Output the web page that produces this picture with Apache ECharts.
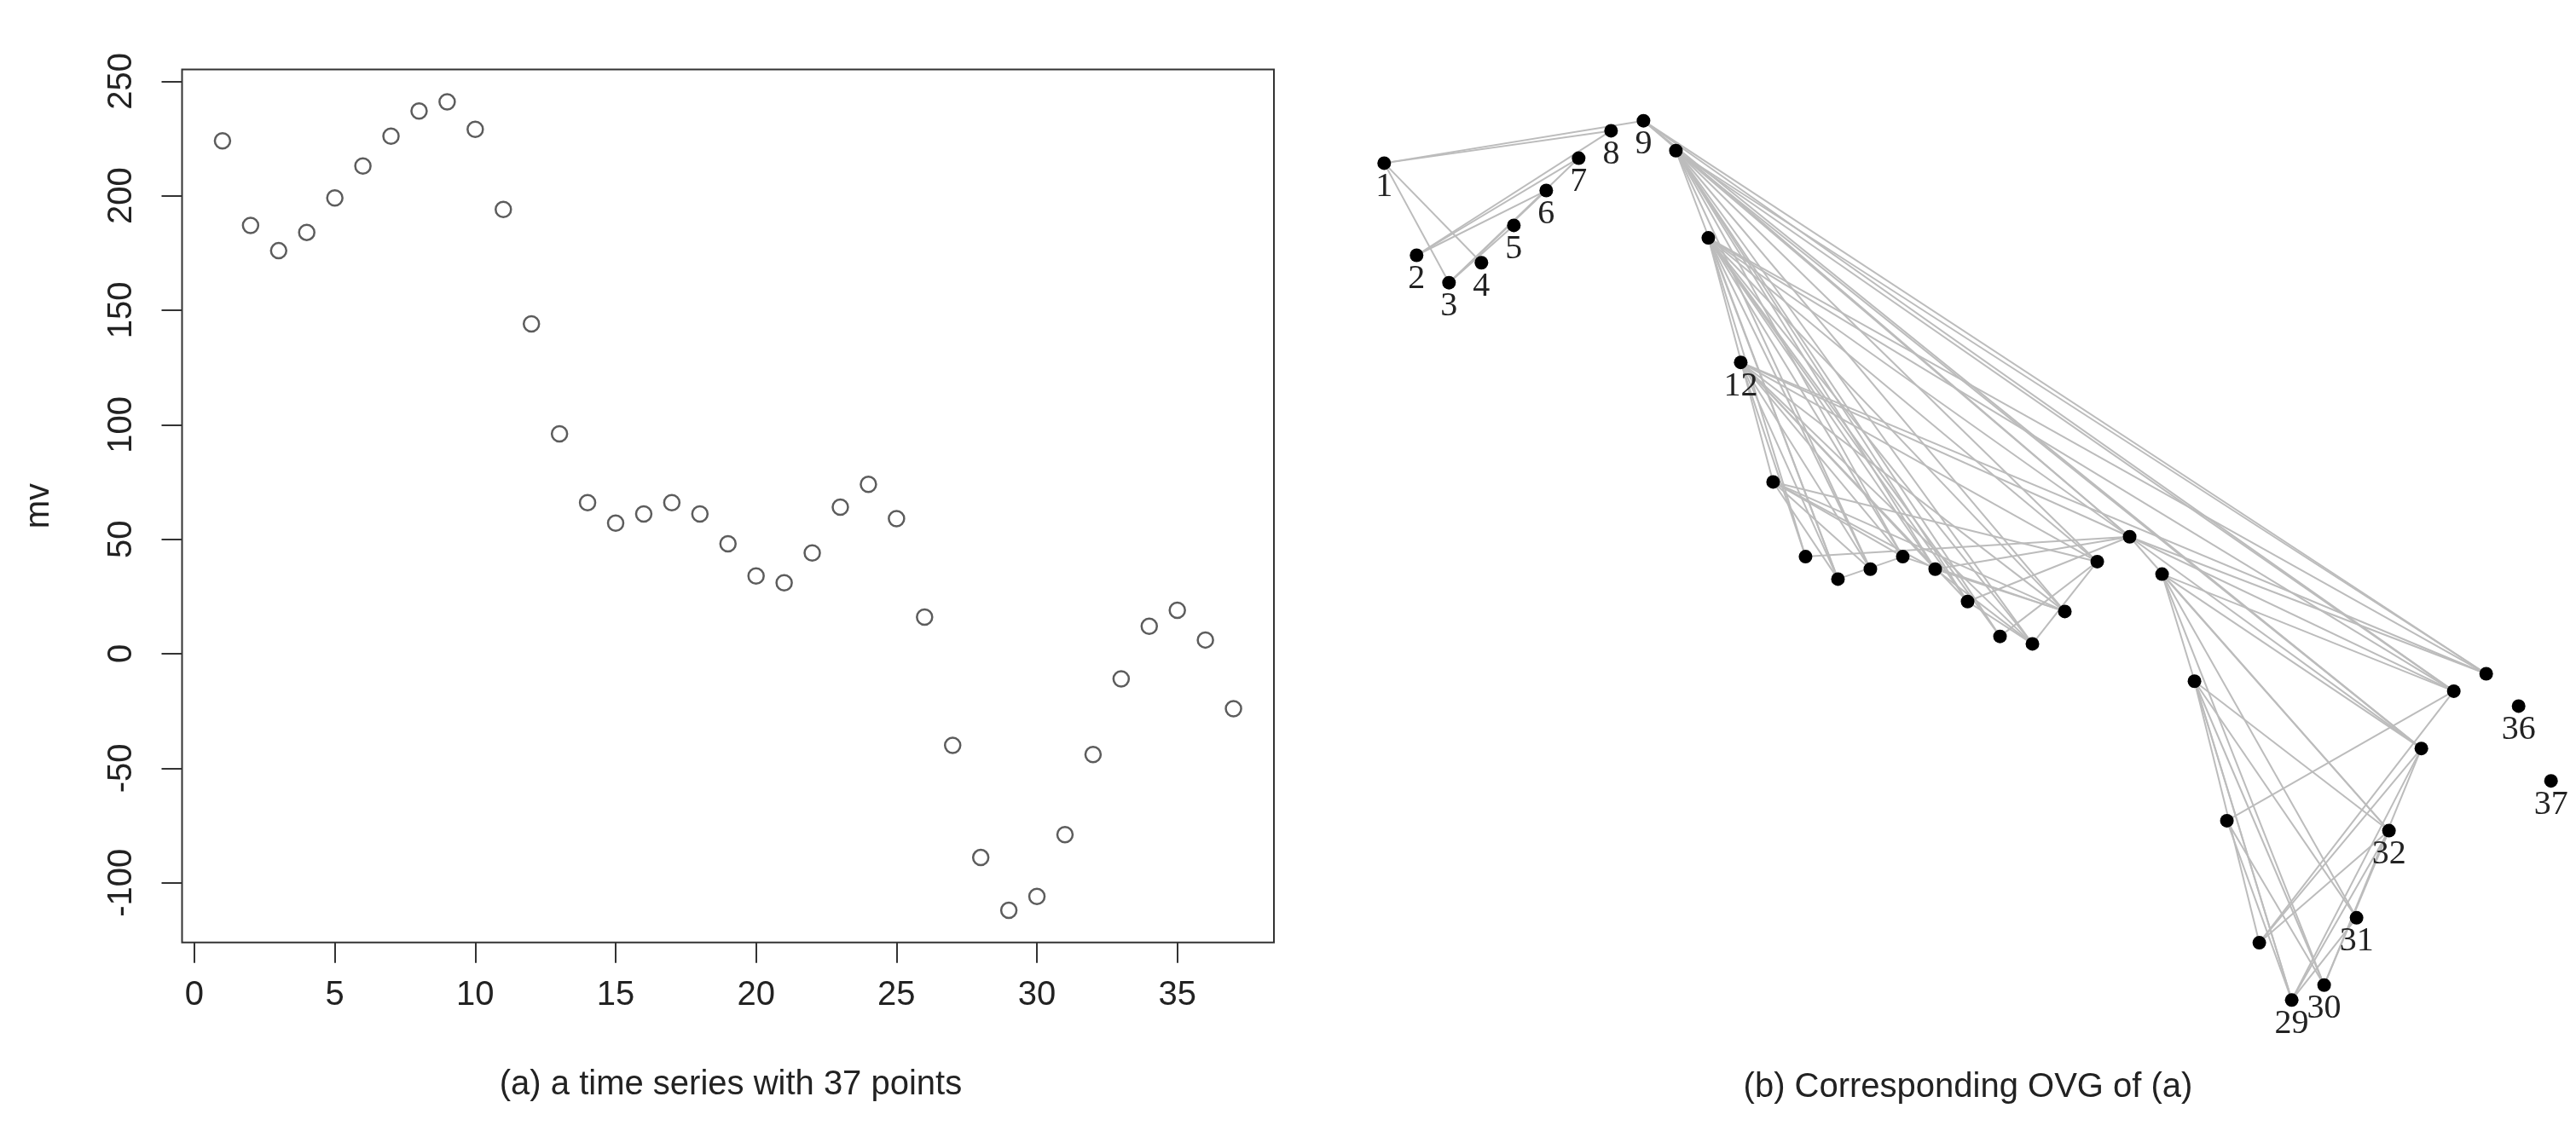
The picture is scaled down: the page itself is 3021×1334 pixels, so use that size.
<!DOCTYPE html>
<html>
<head>
<meta charset="utf-8">
<title>time series and OVG</title>
<script src="https://cdn.jsdelivr.net/npm/echarts@6/dist/echarts.min.js"></script>
<style>
  html, body { margin: 0; padding: 0; background: #fff; }
  #chart { width: 3021px; height: 1334px; }
</style>
</head>
<body>
<div id="chart"></div>
<script>
// time series, index 1..37
const mv = [224, 187, 176, 184, 199, 213, 226, 237, 241, 229, 194, 144, 96, 66, 57, 61, 66, 61, 48, 34,
            31, 44, 64, 74, 59, 16, -40, -89, -112, -106, -79, -44, -11, 12, 19, 6, -24];
const xTicks = [0, 5, 10, 15, 20, 25, 30, 35];
const yTicks = [-100, -50, 0, 50, 100, 150, 200, 250];
// nodes that carry a number in panel (b)
const labeledNodes = [1, 2, 3, 4, 5, 6, 7, 8, 9, 12, 29, 30, 31, 32, 36, 37];
const titleA = '(a) a time series with 37 points';
const titleB = '(b) Corresponding OVG of (a)';

// OVG links: pairs that see each other over the series (natural visibility)
// but not horizontally, so neighbours are never linked
function ovgLinks(y) {
    const links = [];
    for (let a = 0; a < y.length; a++) {
        for (let b = a + 1; b < y.length; b++) {
            let nat = true, hor = true;
            for (let c = a + 1; c < b; c++) {
                const lineY = y[b] + (y[a] - y[b]) * (b - c) / (b - a);
                if (y[c] >= lineY) nat = false;
                if (y[c] >= Math.min(y[a], y[b])) hor = false;
            }
            if (nat && !hor) links.push({ source: a, target: b });
        }
    }
    return links;
}

const sans = 'Liberation Sans, Arial, Helvetica, sans-serif';
const ink = '#222';
const chart = echarts.init(document.getElementById('chart'));

const option = {
    backgroundColor: '#fff',
    animation: false,
    title: [
        {
            text: titleA, left: 857, top: 1253, textAlign: 'center', padding: 0,
            textStyle: { fontFamily: sans, fontSize: 40, fontWeight: 'normal', color: ink }
        },
        {
            text: titleB, left: 2308, top: 1256, textAlign: 'center', padding: 0,
            textStyle: { fontFamily: sans, fontSize: 40, fontWeight: 'normal', color: ink }
        }
    ],
    grid: [
        {
            left: 213.5, top: 81.6, width: 1280.5, height: 1024.2,
            show: true, borderColor: '#333', borderWidth: 2, backgroundColor: 'transparent'
        },
        { left: 1623.3, top: 141.7, right: 29.3, bottom: 160.7 }
    ],
    xAxis: [
        {
            gridIndex: 0, type: 'value', min: -0.44, max: 38.44, position: 'bottom',
            axisLine: { show: false, onZero: false },
            splitLine: { show: false },
            axisTick: { show: true, customValues: xTicks, length: 24, lineStyle: { color: '#333', width: 2 } },
            axisLabel: { customValues: xTicks, margin: 42, fontFamily: sans, fontSize: 40, color: ink }
        },
        { gridIndex: 1, type: 'value', min: 1, max: 37, show: false }
    ],
    yAxis: [
        {
            gridIndex: 0, type: 'value', min: -126.1, max: 255.1, position: 'left',
            axisLine: { show: false, onZero: false },
            splitLine: { show: false },
            axisTick: { show: true, customValues: yTicks, length: 24, lineStyle: { color: '#333', width: 2 } },
            axisLabel: { customValues: yTicks, rotate: 90, margin: 51, fontFamily: sans, fontSize: 40, color: ink },
            name: 'mv', nameLocation: 'middle', nameGap: 148, nameRotate: 90,
            nameTextStyle: { fontFamily: sans, fontSize: 40, color: ink }
        },
        { gridIndex: 1, type: 'value', min: -112, max: 241, show: false }
    ],
    series: [
        {
            type: 'scatter',
            xAxisIndex: 0, yAxisIndex: 0,
            data: mv.map((v, i) => [i + 1, v]),
            symbol: 'circle', symbolSize: 18,
            itemStyle: { color: '#fff', borderColor: '#333', borderWidth: 2.5 },
            silent: true
        },
        {
            type: 'graph',
            coordinateSystem: 'cartesian2d',
            xAxisIndex: 1, yAxisIndex: 1,
            data: mv.map((v, i) => ({
                value: [i + 1, v],
                label: { show: labeledNodes.includes(i + 1) }
            })),
            links: ovgLinks(mv),
            symbol: 'circle', symbolSize: 16,
            itemStyle: { color: '#000' },
            lineStyle: { color: '#bcbcbc', width: 2, opacity: 1 },
            label: {
                position: 'inside', offset: [0, 28],
                formatter: p => String(p.dataIndex + 1),
                fontFamily: 'Liberation Serif, Times New Roman, serif', fontSize: 40, color: ink
            },
            emphasis: { disabled: true },
            silent: true
        }
    ]
};

chart.setOption(option);
window.onresize = function () {
    chart.resize();
};
</script>
</body>
</html>
